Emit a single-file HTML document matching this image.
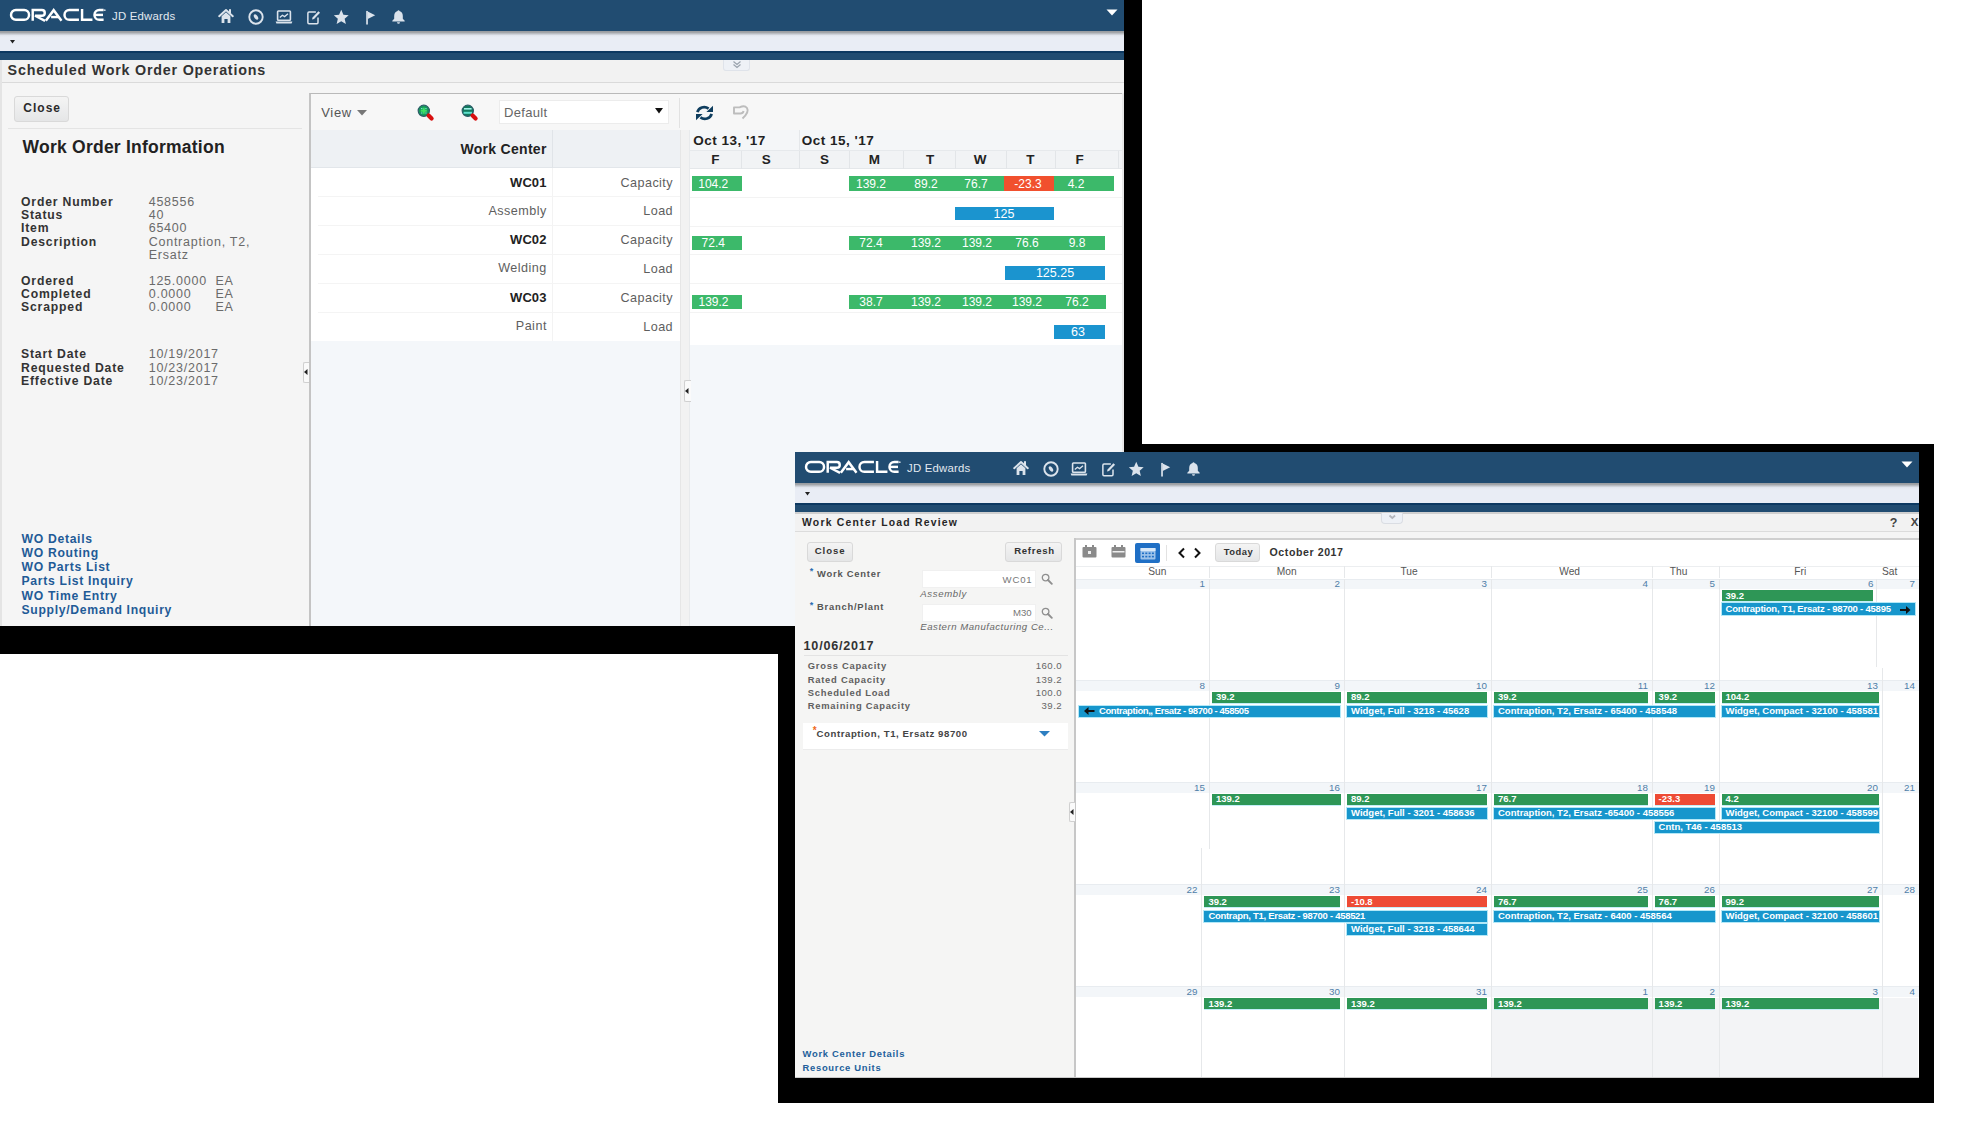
<!DOCTYPE html><html><head><meta charset="utf-8"><style>
*{box-sizing:border-box;margin:0;padding:0}
html,body{width:1984px;height:1134px;overflow:hidden;background:#fff;font-family:"Liberation Sans",sans-serif;}
.a{position:absolute}
.scr{position:absolute;overflow:hidden;width:1124px;height:626px;}
.t{position:absolute;white-space:nowrap}
</style></head><body>
<div class="a" style="left:0px;top:0px;width:1142px;height:654px;background:#000;"></div><div class="a" style="left:778px;top:444px;width:1156px;height:659px;background:#000;"></div><div class="scr" style="left:0;top:0"><div class="a" style="left:0px;top:0px;width:1124px;height:626px;background:#f5f5f5;"></div><div class="a" style="left:0px;top:0px;width:1124px;height:31px;background:#214c71;"></div><svg class="a" style="left:10px;top:9.2px;color:#fff;overflow:visible" width="94" height="11.8" viewBox="0 0 96 12" preserveAspectRatio="none"><g fill="none" stroke="currentColor" stroke-width="2.5">
<rect x="1.05" y="1.05" width="18.4" height="9.9" rx="4.95"/>
<path d="M23.2 12 V1.05 H32.6 A2.9 2.9 0 0 1 32.6 6.85 H25.6 L35.8 12"/>
<path d="M36.6 12 L44.6 1.2 L52.6 12"/>
<path d="M42 8.2 H49.6"/>
<path d="M70.4 10.95 H60.6 A4.95 4.95 0 0 1 60.6 1.05 H70.4"/>
<path d="M73.6 0 V10.95 H84.2"/>
<path d="M95.6 10.95 H91.2 A4.95 4.95 0 0 1 91.2 1.05 H95.6"/>
<path d="M86.8 6 H95"/>
</g><circle cx="96.8" cy="1.2" r="0.9" fill="currentColor" fill-opacity="0.8"/></svg><div class="a" style="left:112px;top:9.4px;height:15px;white-space:nowrap;font-size:11.4px;line-height:15px;font-weight:normal;font-style:normal;color:#e3e9f0;letter-spacing:0.205px;">JD Edwards</div><svg class="a" style="left:218.0px;top:8.0px;color:#dbe3ec" width="16" height="16" viewBox="0 0 16 16"><path d="M1.2 8.2 L8 2 L14.8 8.2" fill="none" stroke="currentColor" stroke-width="2" stroke-linecap="round" stroke-linejoin="round"/><path d="M3.6 8.3 L8 4.3 L12.4 8.3 V15 H9.6 V11 H6.4 V15 H3.6 Z" fill="currentColor"/><rect x="11" y="1.2" width="2" height="4" fill="currentColor"/></svg><svg class="a" style="left:247.5px;top:9.0px;color:#dbe3ec" width="16" height="16" viewBox="0 0 16 16"><circle cx="8" cy="8" r="6.7" fill="none" stroke="currentColor" stroke-width="1.9"/><ellipse cx="8" cy="8" rx="3" ry="1.7" transform="rotate(55 8 8)" fill="currentColor"/></svg><svg class="a" style="left:275.0px;top:9.0px;color:#dbe3ec" width="18" height="16" viewBox="0 0 18 16"><rect x="2.6" y="2" width="12.8" height="9.2" rx="0.8" fill="none" stroke="currentColor" stroke-width="1.6"/><path d="M4.8 8.6 L7.4 6.2 L9.6 7.6 L13 4.8" fill="none" stroke="currentColor" stroke-width="1.3"/><path d="M0.6 12.6 H17.4 L16.6 14.4 H1.4 Z" fill="currentColor"/></svg><svg class="a" style="left:305.5px;top:9.5px;color:#dbe3ec" width="15" height="15" viewBox="0 0 16 16"><path d="M10.5 2.2 H3.2 Q2 2.2 2 3.4 V13.4 Q2 14.6 3.2 14.6 H11.6 Q12.8 14.6 12.8 13.4 V8" fill="none" stroke="currentColor" stroke-width="1.6"/><path d="M13.2 1.2 L15 3 L8.6 9.6 L6.4 10.2 L7 8 Z" fill="currentColor"/></svg><svg class="a" style="left:332.75px;top:8.75px;color:#dbe3ec" width="16.5" height="16.5" viewBox="0 0 16 16"><path d="M8 0.8 L10.1 5.6 L15.2 6 L11.3 9.4 L12.5 14.6 L8 11.9 L3.5 14.6 L4.7 9.4 L0.8 6 L5.9 5.6 Z" fill="currentColor"/></svg><svg class="a" style="left:362.5px;top:9.5px;color:#dbe3ec" width="15" height="15" viewBox="0 0 16 16"><rect x="3.4" y="1" width="1.8" height="14.5" fill="currentColor"/><path d="M5 1.5 L13 5.6 L5 9.6 Z" fill="currentColor"/></svg><svg class="a" style="left:390.5px;top:8.8px;color:#dbe3ec" width="15" height="15" viewBox="0 0 16 16"><path d="M8 1.2 Q9 1.2 9 2.2 Q12.6 3.2 12.6 7.5 V10.4 L14.6 12.6 V13.4 H1.4 V12.6 L3.4 10.4 V7.5 Q3.4 3.2 7 2.2 Q7 1.2 8 1.2 Z" fill="currentColor"/><path d="M6.4 14 H9.6 Q9.4 15.6 8 15.6 Q6.6 15.6 6.4 14 Z" fill="currentColor"/></svg><svg class="a" style="left:1106px;top:9px" width="12" height="7"><path d="M0.5 0.5 L11.5 0.5 L6 6.5 Z" fill="#fff"/></svg><div class="a" style="left:0px;top:31px;width:1124px;height:20px;background:linear-gradient(#979a9e 0px,#a3a6aa 1.5px,#c4c8cf 3px,#e2e6ee 4.5px,#e9edf5 6px,#e9edf5 100%);"></div><div class="a" style="left:10px;top:39.5px;width:5px;height:4px;"><svg width="5" height="4" style="display:block"><path d="M0 0 H5 L2.5 3.5 Z" fill="#222"/></svg></div><div class="a" style="left:0px;top:51px;width:1124px;height:2px;background:#0d3961;"></div><div class="a" style="left:0px;top:53px;width:1124px;height:7px;background:#214c71;"></div><div class="a" style="left:0px;top:60px;width:1124px;height:23px;background:#f2f2f2;border-bottom:1px solid #dadada;"></div><div class="a" style="left:7.6px;top:61.2px;height:19px;white-space:nowrap;font-size:14.3px;line-height:19px;font-weight:bold;font-style:normal;color:#333;letter-spacing:0.782px;">Scheduled Work Order Operations</div><div class="a" style="left:723px;top:60px;width:27px;height:11px;background:#eef1f6;border:1px solid #dfe3ea;border-top:none;border-radius:0 0 3px 3px;"><svg width="27" height="10" style="position:absolute;left:0;top:0"><path d="M9.5 1.5 L13 4.5 L16.5 1.5 M9.5 4.5 L13 7.5 L16.5 4.5" fill="none" stroke="#9aa3ad" stroke-width="1.2"/></svg></div><div class="a" style="left:0px;top:83px;width:310px;height:543px;background:#f5f5f5;"></div><div class="a" style="left:0px;top:60px;width:2px;height:566px;background:#e4e4e4;"></div><div class="a" style="left:13.8px;top:96px;width:55.7px;height:26px;background:linear-gradient(#f4f4f4,#e5e6e7);border:1px solid #d9d9d9;border-radius:3px;"></div><div class="a" style="left:23.3px;top:99.8px;height:16px;white-space:nowrap;font-size:12px;line-height:16px;font-weight:bold;font-style:normal;color:#2b2b2b;letter-spacing:1.005px;">Close</div><div class="a" style="left:8px;top:127.5px;width:294px;height:1px;background:#e4e4e4;"></div><div class="a" style="left:22.6px;top:135.5px;height:23px;white-space:nowrap;font-size:17.5px;line-height:23px;font-weight:bold;font-style:normal;color:#222;letter-spacing:0.235px;">Work Order Information</div><div class="a" style="left:21px;top:193.5px;height:16px;white-space:nowrap;font-size:12.2px;line-height:16px;font-weight:bold;font-style:normal;color:#333;letter-spacing:0.827px;">Order Number</div><div class="a" style="left:148.7px;top:193.5px;height:16px;white-space:nowrap;font-size:12.5px;line-height:16px;font-weight:normal;font-style:normal;color:#6a6a6a;letter-spacing:0.757px;">458556</div><div class="a" style="left:21px;top:207.0px;height:16px;white-space:nowrap;font-size:12.2px;line-height:16px;font-weight:bold;font-style:normal;color:#333;letter-spacing:0.827px;">Status</div><div class="a" style="left:148.7px;top:207.0px;height:16px;white-space:nowrap;font-size:12.5px;line-height:16px;font-weight:normal;font-style:normal;color:#6a6a6a;letter-spacing:0.757px;">40</div><div class="a" style="left:21px;top:220.3px;height:16px;white-space:nowrap;font-size:12.2px;line-height:16px;font-weight:bold;font-style:normal;color:#333;letter-spacing:0.827px;">Item</div><div class="a" style="left:148.7px;top:220.3px;height:16px;white-space:nowrap;font-size:12.5px;line-height:16px;font-weight:normal;font-style:normal;color:#6a6a6a;letter-spacing:0.757px;">65400</div><div class="a" style="left:21px;top:233.8px;height:16px;white-space:nowrap;font-size:12.2px;line-height:16px;font-weight:bold;font-style:normal;color:#333;letter-spacing:0.827px;">Description</div><div class="a" style="left:148.7px;top:233.8px;height:16px;white-space:nowrap;font-size:12.5px;line-height:16px;font-weight:normal;font-style:normal;color:#6a6a6a;letter-spacing:0.757px;">Contraption, T2,</div><div class="a" style="left:148.7px;top:247.0px;height:16px;white-space:nowrap;font-size:12.5px;line-height:16px;font-weight:normal;font-style:normal;color:#6a6a6a;letter-spacing:0.757px;">Ersatz</div><div class="a" style="left:21px;top:272.5px;height:16px;white-space:nowrap;font-size:12.2px;line-height:16px;font-weight:bold;font-style:normal;color:#333;letter-spacing:0.827px;">Ordered</div><div class="a" style="left:148.7px;top:272.5px;height:16px;white-space:nowrap;font-size:12.5px;line-height:16px;font-weight:normal;font-style:normal;color:#6a6a6a;letter-spacing:0.757px;">125.0000</div><div class="a" style="left:21px;top:286.0px;height:16px;white-space:nowrap;font-size:12.2px;line-height:16px;font-weight:bold;font-style:normal;color:#333;letter-spacing:0.827px;">Completed</div><div class="a" style="left:148.7px;top:286.0px;height:16px;white-space:nowrap;font-size:12.5px;line-height:16px;font-weight:normal;font-style:normal;color:#6a6a6a;letter-spacing:0.757px;">0.0000</div><div class="a" style="left:21px;top:299.0px;height:16px;white-space:nowrap;font-size:12.2px;line-height:16px;font-weight:bold;font-style:normal;color:#333;letter-spacing:0.827px;">Scrapped</div><div class="a" style="left:148.7px;top:299.0px;height:16px;white-space:nowrap;font-size:12.5px;line-height:16px;font-weight:normal;font-style:normal;color:#6a6a6a;letter-spacing:0.757px;">0.0000</div><div class="a" style="left:21px;top:346.0px;height:16px;white-space:nowrap;font-size:12.2px;line-height:16px;font-weight:bold;font-style:normal;color:#333;letter-spacing:0.827px;">Start Date</div><div class="a" style="left:148.7px;top:346.0px;height:16px;white-space:nowrap;font-size:12.5px;line-height:16px;font-weight:normal;font-style:normal;color:#6a6a6a;letter-spacing:0.757px;">10/19/2017</div><div class="a" style="left:21px;top:359.5px;height:16px;white-space:nowrap;font-size:12.2px;line-height:16px;font-weight:bold;font-style:normal;color:#333;letter-spacing:0.827px;">Requested Date</div><div class="a" style="left:148.7px;top:359.5px;height:16px;white-space:nowrap;font-size:12.5px;line-height:16px;font-weight:normal;font-style:normal;color:#6a6a6a;letter-spacing:0.757px;">10/23/2017</div><div class="a" style="left:21px;top:372.6px;height:16px;white-space:nowrap;font-size:12.2px;line-height:16px;font-weight:bold;font-style:normal;color:#333;letter-spacing:0.827px;">Effective Date</div><div class="a" style="left:148.7px;top:372.6px;height:16px;white-space:nowrap;font-size:12.5px;line-height:16px;font-weight:normal;font-style:normal;color:#6a6a6a;letter-spacing:0.757px;">10/23/2017</div><div class="a" style="left:215.5px;top:272.5px;height:16px;white-space:nowrap;font-size:12.5px;line-height:16px;font-weight:normal;font-style:normal;color:#6a6a6a;letter-spacing:0.757px;">EA</div><div class="a" style="left:215.5px;top:286.0px;height:16px;white-space:nowrap;font-size:12.5px;line-height:16px;font-weight:normal;font-style:normal;color:#6a6a6a;letter-spacing:0.757px;">EA</div><div class="a" style="left:215.5px;top:299.0px;height:16px;white-space:nowrap;font-size:12.5px;line-height:16px;font-weight:normal;font-style:normal;color:#6a6a6a;letter-spacing:0.757px;">EA</div><div class="a" style="left:21.5px;top:530.7px;height:16px;white-space:nowrap;font-size:12.2px;line-height:16px;font-weight:bold;font-style:normal;color:#1f5b97;letter-spacing:0.687px;">WO Details</div><div class="a" style="left:21.5px;top:544.9px;height:16px;white-space:nowrap;font-size:12.2px;line-height:16px;font-weight:bold;font-style:normal;color:#1f5b97;letter-spacing:0.687px;">WO Routing</div><div class="a" style="left:21.5px;top:559.1px;height:16px;white-space:nowrap;font-size:12.2px;line-height:16px;font-weight:bold;font-style:normal;color:#1f5b97;letter-spacing:0.687px;">WO Parts List</div><div class="a" style="left:21.5px;top:573.3px;height:16px;white-space:nowrap;font-size:12.2px;line-height:16px;font-weight:bold;font-style:normal;color:#1f5b97;letter-spacing:0.687px;">Parts List Inquiry</div><div class="a" style="left:21.5px;top:587.5px;height:16px;white-space:nowrap;font-size:12.2px;line-height:16px;font-weight:bold;font-style:normal;color:#1f5b97;letter-spacing:0.687px;">WO Time Entry</div><div class="a" style="left:21.5px;top:601.7px;height:16px;white-space:nowrap;font-size:12.2px;line-height:16px;font-weight:bold;font-style:normal;color:#1f5b97;letter-spacing:0.687px;">Supply/Demand Inquiry</div><div class="a" style="left:303px;top:362px;width:7px;height:21px;background:#fafafa;border:1px solid #d0d0d0;border-right:none;border-radius:2px 0 0 2px;"></div><svg class="a" style="left:304px;top:369px" width="4" height="6"><path d="M3.5 0 V6 L0 3 Z" fill="#222"/></svg><div class="a" style="left:309px;top:93px;width:815px;height:533px;background:#f4f7fa;border-top:1px solid #b9b9b9;border-left:2px solid #c4c4c4;"></div><div class="a" style="left:311px;top:94px;width:813px;height:36px;background:#f7f7f7;"></div><div class="a" style="left:321.2px;top:103.5px;height:17px;white-space:nowrap;font-size:13px;line-height:17px;font-weight:normal;font-style:normal;color:#555;letter-spacing:0.685px;">View</div><svg class="a" style="left:357px;top:110px" width="10" height="6"><path d="M0 0 H10 L5 5.5 Z" fill="#777"/></svg><svg class="a" style="left:416.5px;top:103.5px" width="19" height="18"><circle cx="6.8" cy="6.8" r="5.6" fill="#16985c" stroke="#2d5d68" stroke-width="1.2"/><path d="M3.8 6.8 H9.8 M6.8 3.8 V9.8" stroke="#3fe064" stroke-width="2"/><path d="M4 4.6 L5.4 4.6 M8.3 4.6 L9.6 4.6 M4 9 L5.4 9 M8.3 9 L9.6 9" stroke="#7fe8d8" stroke-width="1"/><path d="M11.6 11.4 L14.6 14.4" stroke="#d81010" stroke-width="4.2" stroke-linecap="round"/></svg><svg class="a" style="left:460.5px;top:103.5px" width="19" height="18"><circle cx="6.8" cy="6.8" r="5.6" fill="#117a5e" stroke="#2d5d68" stroke-width="1.2"/><path d="M3 4.8 H10.6" stroke="#9ff0e6" stroke-width="1.6"/><path d="M2.6 8.8 H11" stroke="#5ee0cc" stroke-width="2"/><path d="M11.6 11.4 L14.6 14.4" stroke="#d81010" stroke-width="4.2" stroke-linecap="round"/></svg><div class="a" style="left:499px;top:100px;width:170px;height:24px;background:#fff;border:1px solid #ececec;"></div><div class="a" style="left:504px;top:103.5px;height:17px;white-space:nowrap;font-size:13px;line-height:17px;font-weight:normal;font-style:normal;color:#666;letter-spacing:0.302px;">Default</div><svg class="a" style="left:655px;top:108px" width="8" height="6"><path d="M0 0 H8 L4 5.5 Z" fill="#111"/></svg><div class="a" style="left:679px;top:98px;width:1px;height:30px;background:#e2e2e2;"></div><svg class="a" style="left:695px;top:104px" width="19" height="18" viewBox="0 0 19 18"><g fill="none" stroke="#0f3d5e" stroke-width="2.7"><path d="M2.4 8.2 C3.6 3.4 9.5 1.6 13.6 4.6"/><path d="M16.6 9.8 C15.4 14.6 9.5 16.4 5.4 13.4"/></g><g fill="#0f3d5e"><path d="M11.4 8 L18 8 L18 1.8 Z"/><path d="M7.6 10 L1 10 L1 16.2 Z"/></g></svg><svg class="a" style="left:731px;top:103px" width="20" height="18" viewBox="0 0 20 18"><g fill="none" stroke="#bdbdbd" stroke-width="1.9" stroke-linejoin="round"><path d="M11.5 15.5 Q18.5 9 16 5 Q13.5 1.8 9 4.2 L3 4.4 L3 10.5 L9.5 10.5 Q12 10.5 12.6 8"/></g></svg><div class="a" style="left:311px;top:130px;width:369px;height:38px;background:#eef1f4;border-bottom:1px solid #e2e6ea;"></div><div class="a" style="left:552px;top:130px;width:1px;height:38px;background:#e0e4e8;"></div><div class="a" style="left:460.4px;top:140.0px;height:18px;white-space:nowrap;font-size:14px;line-height:18px;font-weight:bold;font-style:normal;color:#222;letter-spacing:0.302px;">Work Center</div><div class="a" style="left:311px;top:168px;width:369px;height:173px;background:#fff;"></div><div class="a" style="left:552px;top:168px;width:1px;height:173px;background:#f3f3f3;"></div><div class="a" style="left:510.1px;top:173.5px;height:17px;white-space:nowrap;font-size:13px;line-height:17px;font-weight:bold;font-style:normal;color:#222;letter-spacing:0.060px;">WC01</div><div class="a" style="left:620.6px;top:174.5px;height:16px;white-space:nowrap;font-size:12.6px;line-height:16px;font-weight:normal;font-style:normal;color:#5e5e5e;letter-spacing:0.425px;">Capacity</div><div class="a" style="left:318px;top:196.4px;width:362px;height:1px;background:#f4f4f4;"></div><div class="a" style="left:488.4px;top:202.8px;height:16px;white-space:nowrap;font-size:12.6px;line-height:16px;font-weight:normal;font-style:normal;color:#5e5e5e;letter-spacing:0.483px;">Assembly</div><div class="a" style="left:643.29px;top:203.3px;height:16px;white-space:nowrap;font-size:12.6px;line-height:16px;font-weight:normal;font-style:normal;color:#5e5e5e;letter-spacing:0.425px;">Load</div><div class="a" style="left:318px;top:225.2px;width:362px;height:1px;background:#f4f4f4;"></div><div class="a" style="left:510.1px;top:231.1px;height:17px;white-space:nowrap;font-size:13px;line-height:17px;font-weight:bold;font-style:normal;color:#222;letter-spacing:0.060px;">WC02</div><div class="a" style="left:620.6px;top:232.1px;height:16px;white-space:nowrap;font-size:12.6px;line-height:16px;font-weight:normal;font-style:normal;color:#5e5e5e;letter-spacing:0.425px;">Capacity</div><div class="a" style="left:318px;top:254.0px;width:362px;height:1px;background:#f4f4f4;"></div><div class="a" style="left:498.2px;top:260.4px;height:16px;white-space:nowrap;font-size:12.6px;line-height:16px;font-weight:normal;font-style:normal;color:#5e5e5e;letter-spacing:0.483px;">Welding</div><div class="a" style="left:643.29px;top:260.9px;height:16px;white-space:nowrap;font-size:12.6px;line-height:16px;font-weight:normal;font-style:normal;color:#5e5e5e;letter-spacing:0.425px;">Load</div><div class="a" style="left:318px;top:282.8px;width:362px;height:1px;background:#f4f4f4;"></div><div class="a" style="left:510.1px;top:288.7px;height:17px;white-space:nowrap;font-size:13px;line-height:17px;font-weight:bold;font-style:normal;color:#222;letter-spacing:0.060px;">WC03</div><div class="a" style="left:620.6px;top:289.7px;height:16px;white-space:nowrap;font-size:12.6px;line-height:16px;font-weight:normal;font-style:normal;color:#5e5e5e;letter-spacing:0.425px;">Capacity</div><div class="a" style="left:318px;top:311.6px;width:362px;height:1px;background:#f4f4f4;"></div><div class="a" style="left:515.75px;top:318.0px;height:16px;white-space:nowrap;font-size:12.6px;line-height:16px;font-weight:normal;font-style:normal;color:#5e5e5e;letter-spacing:0.483px;">Paint</div><div class="a" style="left:643.29px;top:318.5px;height:16px;white-space:nowrap;font-size:12.6px;line-height:16px;font-weight:normal;font-style:normal;color:#5e5e5e;letter-spacing:0.425px;">Load</div><div class="a" style="left:680px;top:130px;width:10px;height:496px;background:#f2f2f2;border-left:1px solid #e6e6e6;border-right:1px solid #e8eaec;"></div><div class="a" style="left:684px;top:380px;width:7px;height:22px;background:#fafafa;border:1px solid #d0d0d0;border-right:none;border-radius:2px 0 0 2px;"></div><svg class="a" style="left:685px;top:388px" width="4" height="6"><path d="M3.5 0 V6 L0 3 Z" fill="#222"/></svg><div class="a" style="left:690px;top:130px;width:434px;height:39px;background:#f4f6f8;"></div><div class="a" style="left:690px;top:150px;width:434px;height:19px;background:#f1f3f5;border-top:1px solid #e6e9ec;border-bottom:1px solid #e4e7ea;"></div><div class="a" style="left:693.2px;top:131.5px;height:18px;white-space:nowrap;font-size:13.5px;line-height:18px;font-weight:bold;font-style:normal;color:#222;letter-spacing:0.500px;">Oct 13, '17</div><div class="a" style="left:799px;top:130px;width:1px;height:20px;background:#e4e7ea;"></div><div class="a" style="left:801.7px;top:131.5px;height:18px;white-space:nowrap;font-size:13.5px;line-height:18px;font-weight:bold;font-style:normal;color:#222;letter-spacing:0.500px;">Oct 15, '17</div><div class="a" style="left:711.28px;top:150.5px;height:18px;white-space:nowrap;font-size:13.5px;line-height:18px;font-weight:bold;font-style:normal;color:#222;letter-spacing:0.000px;">F</div><div class="a" style="left:741px;top:151px;width:1px;height:18px;background:#e2e5e8;"></div><div class="a" style="left:761.7px;top:150.5px;height:18px;white-space:nowrap;font-size:13.5px;line-height:18px;font-weight:bold;font-style:normal;color:#222;letter-spacing:0.000px;">S</div><div class="a" style="left:799px;top:151px;width:1px;height:18px;background:#e2e5e8;"></div><div class="a" style="left:819.9px;top:150.5px;height:18px;white-space:nowrap;font-size:13.5px;line-height:18px;font-weight:bold;font-style:normal;color:#222;letter-spacing:0.000px;">S</div><div class="a" style="left:848.5px;top:151px;width:1px;height:18px;background:#e2e5e8;"></div><div class="a" style="left:868.68px;top:150.5px;height:18px;white-space:nowrap;font-size:13.5px;line-height:18px;font-weight:bold;font-style:normal;color:#222;letter-spacing:0.000px;">M</div><div class="a" style="left:903px;top:151px;width:1px;height:18px;background:#e2e5e8;"></div><div class="a" style="left:926.08px;top:150.5px;height:18px;white-space:nowrap;font-size:13.5px;line-height:18px;font-weight:bold;font-style:normal;color:#222;letter-spacing:0.000px;">T</div><div class="a" style="left:955px;top:151px;width:1px;height:18px;background:#e2e5e8;"></div><div class="a" style="left:973.63px;top:150.5px;height:18px;white-space:nowrap;font-size:13.5px;line-height:18px;font-weight:bold;font-style:normal;color:#222;letter-spacing:0.000px;">W</div><div class="a" style="left:1006px;top:151px;width:1px;height:18px;background:#e2e5e8;"></div><div class="a" style="left:1026.18px;top:150.5px;height:18px;white-space:nowrap;font-size:13.5px;line-height:18px;font-weight:bold;font-style:normal;color:#222;letter-spacing:0.000px;">T</div><div class="a" style="left:1055px;top:151px;width:1px;height:18px;background:#e2e5e8;"></div><div class="a" style="left:1075.38px;top:150.5px;height:18px;white-space:nowrap;font-size:13.5px;line-height:18px;font-weight:bold;font-style:normal;color:#222;letter-spacing:0.000px;">F</div><div class="a" style="left:1117.5px;top:151px;width:1px;height:18px;background:#e2e5e8;"></div><div class="a" style="left:690px;top:169px;width:432px;height:176px;background:#fff;"></div><div class="a" style="left:690px;top:196.8px;width:432px;height:1px;background:#f3f3f3;"></div><div class="a" style="left:690px;top:225.6px;width:432px;height:1px;background:#f3f3f3;"></div><div class="a" style="left:690px;top:254.4px;width:432px;height:1px;background:#f3f3f3;"></div><div class="a" style="left:690px;top:283.2px;width:432px;height:1px;background:#f3f3f3;"></div><div class="a" style="left:690px;top:312.0px;width:432px;height:1px;background:#f3f3f3;"></div><div class="a" style="left:691.5px;top:176px;width:50.0px;height:15px;background:#3cb96a;"></div><div class="a" style="left:698.28px;top:175.5px;height:16px;white-space:nowrap;font-size:12px;line-height:16px;font-weight:normal;font-style:normal;color:#fff;letter-spacing:0.000px;">104.2</div><div class="a" style="left:848.5px;top:176px;width:265.5px;height:15px;background:#3cb96a;"></div><div class="a" style="left:1004px;top:176px;width:49.7px;height:15px;background:#f1502e;"></div><div class="a" style="left:855.99px;top:175.5px;height:16px;white-space:nowrap;font-size:12px;line-height:16px;font-weight:normal;font-style:normal;color:#fff;letter-spacing:0.000px;">139.2</div><div class="a" style="left:914.32px;top:175.5px;height:16px;white-space:nowrap;font-size:12px;line-height:16px;font-weight:normal;font-style:normal;color:#fff;letter-spacing:0.000px;">89.2</div><div class="a" style="left:964.32px;top:175.5px;height:16px;white-space:nowrap;font-size:12px;line-height:16px;font-weight:normal;font-style:normal;color:#fff;letter-spacing:0.000px;">76.7</div><div class="a" style="left:1014.32px;top:175.5px;height:16px;white-space:nowrap;font-size:12px;line-height:16px;font-weight:normal;font-style:normal;color:#fff;letter-spacing:0.000px;">-23.3</div><div class="a" style="left:1067.66px;top:175.5px;height:16px;white-space:nowrap;font-size:12px;line-height:16px;font-weight:normal;font-style:normal;color:#fff;letter-spacing:0.000px;">4.2</div><div class="a" style="left:954.7px;top:206.6px;width:99.0px;height:13.9px;background:#1b94cf;"></div><div class="a" style="left:993.57px;top:205.6px;height:16px;white-space:nowrap;font-size:12.5px;line-height:16px;font-weight:normal;font-style:normal;color:#fff;letter-spacing:0.000px;">125</div><div class="a" style="left:691.5px;top:235.6px;width:50.0px;height:14.4px;background:#3cb96a;"></div><div class="a" style="left:701.62px;top:234.8px;height:16px;white-space:nowrap;font-size:12px;line-height:16px;font-weight:normal;font-style:normal;color:#fff;letter-spacing:0.000px;">72.4</div><div class="a" style="left:848.5px;top:235.6px;width:256.9px;height:14.4px;background:#3cb96a;"></div><div class="a" style="left:859.32px;top:234.8px;height:16px;white-space:nowrap;font-size:12px;line-height:16px;font-weight:normal;font-style:normal;color:#fff;letter-spacing:0.000px;">72.4</div><div class="a" style="left:910.99px;top:234.8px;height:16px;white-space:nowrap;font-size:12px;line-height:16px;font-weight:normal;font-style:normal;color:#fff;letter-spacing:0.000px;">139.2</div><div class="a" style="left:961.99px;top:234.8px;height:16px;white-space:nowrap;font-size:12px;line-height:16px;font-weight:normal;font-style:normal;color:#fff;letter-spacing:0.000px;">139.2</div><div class="a" style="left:1015.32px;top:234.8px;height:16px;white-space:nowrap;font-size:12px;line-height:16px;font-weight:normal;font-style:normal;color:#fff;letter-spacing:0.000px;">76.6</div><div class="a" style="left:1068.66px;top:234.8px;height:16px;white-space:nowrap;font-size:12px;line-height:16px;font-weight:normal;font-style:normal;color:#fff;letter-spacing:0.000px;">9.8</div><div class="a" style="left:1005px;top:265.8px;width:99.7px;height:13.9px;background:#1b94cf;"></div><div class="a" style="left:1035.88px;top:264.8px;height:16px;white-space:nowrap;font-size:12.5px;line-height:16px;font-weight:normal;font-style:normal;color:#fff;letter-spacing:0.000px;">125.25</div><div class="a" style="left:691.5px;top:294.5px;width:50.0px;height:14.5px;background:#3cb96a;"></div><div class="a" style="left:698.49px;top:293.7px;height:16px;white-space:nowrap;font-size:12px;line-height:16px;font-weight:normal;font-style:normal;color:#fff;letter-spacing:0.000px;">139.2</div><div class="a" style="left:848.5px;top:294.5px;width:257.0px;height:14.5px;background:#3cb96a;"></div><div class="a" style="left:859.32px;top:293.7px;height:16px;white-space:nowrap;font-size:12px;line-height:16px;font-weight:normal;font-style:normal;color:#fff;letter-spacing:0.000px;">38.7</div><div class="a" style="left:910.99px;top:293.7px;height:16px;white-space:nowrap;font-size:12px;line-height:16px;font-weight:normal;font-style:normal;color:#fff;letter-spacing:0.000px;">139.2</div><div class="a" style="left:961.99px;top:293.7px;height:16px;white-space:nowrap;font-size:12px;line-height:16px;font-weight:normal;font-style:normal;color:#fff;letter-spacing:0.000px;">139.2</div><div class="a" style="left:1011.99px;top:293.7px;height:16px;white-space:nowrap;font-size:12px;line-height:16px;font-weight:normal;font-style:normal;color:#fff;letter-spacing:0.000px;">139.2</div><div class="a" style="left:1065.32px;top:293.7px;height:16px;white-space:nowrap;font-size:12px;line-height:16px;font-weight:normal;font-style:normal;color:#fff;letter-spacing:0.000px;">76.2</div><div class="a" style="left:1054.4px;top:324.7px;width:50.3px;height:14.1px;background:#1b94cf;"></div><div class="a" style="left:1071.05px;top:323.8px;height:16px;white-space:nowrap;font-size:12.5px;line-height:16px;font-weight:normal;font-style:normal;color:#fff;letter-spacing:0.000px;">63</div><div class="a" style="left:1122px;top:93px;width:2px;height:533px;background:#e8e8e8;"></div></div><div class="scr" style="left:795px;top:452px"><div class="a" style="left:0px;top:0px;width:1124px;height:626px;background:#f5f5f5;"></div><div class="a" style="left:0px;top:0px;width:1124px;height:31px;background:#214c71;"></div><svg class="a" style="left:10px;top:9.2px;color:#fff;overflow:visible" width="94" height="11.8" viewBox="0 0 96 12" preserveAspectRatio="none"><g fill="none" stroke="currentColor" stroke-width="2.5">
<rect x="1.05" y="1.05" width="18.4" height="9.9" rx="4.95"/>
<path d="M23.2 12 V1.05 H32.6 A2.9 2.9 0 0 1 32.6 6.85 H25.6 L35.8 12"/>
<path d="M36.6 12 L44.6 1.2 L52.6 12"/>
<path d="M42 8.2 H49.6"/>
<path d="M70.4 10.95 H60.6 A4.95 4.95 0 0 1 60.6 1.05 H70.4"/>
<path d="M73.6 0 V10.95 H84.2"/>
<path d="M95.6 10.95 H91.2 A4.95 4.95 0 0 1 91.2 1.05 H95.6"/>
<path d="M86.8 6 H95"/>
</g><circle cx="96.8" cy="1.2" r="0.9" fill="currentColor" fill-opacity="0.8"/></svg><div class="a" style="left:112px;top:9.4px;height:15px;white-space:nowrap;font-size:11.4px;line-height:15px;font-weight:normal;font-style:normal;color:#e3e9f0;letter-spacing:0.205px;">JD Edwards</div><svg class="a" style="left:218.0px;top:8.0px;color:#dbe3ec" width="16" height="16" viewBox="0 0 16 16"><path d="M1.2 8.2 L8 2 L14.8 8.2" fill="none" stroke="currentColor" stroke-width="2" stroke-linecap="round" stroke-linejoin="round"/><path d="M3.6 8.3 L8 4.3 L12.4 8.3 V15 H9.6 V11 H6.4 V15 H3.6 Z" fill="currentColor"/><rect x="11" y="1.2" width="2" height="4" fill="currentColor"/></svg><svg class="a" style="left:247.5px;top:9.0px;color:#dbe3ec" width="16" height="16" viewBox="0 0 16 16"><circle cx="8" cy="8" r="6.7" fill="none" stroke="currentColor" stroke-width="1.9"/><ellipse cx="8" cy="8" rx="3" ry="1.7" transform="rotate(55 8 8)" fill="currentColor"/></svg><svg class="a" style="left:275.0px;top:9.0px;color:#dbe3ec" width="18" height="16" viewBox="0 0 18 16"><rect x="2.6" y="2" width="12.8" height="9.2" rx="0.8" fill="none" stroke="currentColor" stroke-width="1.6"/><path d="M4.8 8.6 L7.4 6.2 L9.6 7.6 L13 4.8" fill="none" stroke="currentColor" stroke-width="1.3"/><path d="M0.6 12.6 H17.4 L16.6 14.4 H1.4 Z" fill="currentColor"/></svg><svg class="a" style="left:305.5px;top:9.5px;color:#dbe3ec" width="15" height="15" viewBox="0 0 16 16"><path d="M10.5 2.2 H3.2 Q2 2.2 2 3.4 V13.4 Q2 14.6 3.2 14.6 H11.6 Q12.8 14.6 12.8 13.4 V8" fill="none" stroke="currentColor" stroke-width="1.6"/><path d="M13.2 1.2 L15 3 L8.6 9.6 L6.4 10.2 L7 8 Z" fill="currentColor"/></svg><svg class="a" style="left:332.75px;top:8.75px;color:#dbe3ec" width="16.5" height="16.5" viewBox="0 0 16 16"><path d="M8 0.8 L10.1 5.6 L15.2 6 L11.3 9.4 L12.5 14.6 L8 11.9 L3.5 14.6 L4.7 9.4 L0.8 6 L5.9 5.6 Z" fill="currentColor"/></svg><svg class="a" style="left:362.5px;top:9.5px;color:#dbe3ec" width="15" height="15" viewBox="0 0 16 16"><rect x="3.4" y="1" width="1.8" height="14.5" fill="currentColor"/><path d="M5 1.5 L13 5.6 L5 9.6 Z" fill="currentColor"/></svg><svg class="a" style="left:390.5px;top:8.8px;color:#dbe3ec" width="15" height="15" viewBox="0 0 16 16"><path d="M8 1.2 Q9 1.2 9 2.2 Q12.6 3.2 12.6 7.5 V10.4 L14.6 12.6 V13.4 H1.4 V12.6 L3.4 10.4 V7.5 Q3.4 3.2 7 2.2 Q7 1.2 8 1.2 Z" fill="currentColor"/><path d="M6.4 14 H9.6 Q9.4 15.6 8 15.6 Q6.6 15.6 6.4 14 Z" fill="currentColor"/></svg><svg class="a" style="left:1106px;top:9px" width="12" height="7"><path d="M0.5 0.5 L11.5 0.5 L6 6.5 Z" fill="#fff"/></svg><div class="a" style="left:0px;top:31px;width:1124px;height:20px;background:linear-gradient(#979a9e 0px,#a3a6aa 1.5px,#c4c8cf 3px,#e2e6ee 4.5px,#e9edf5 6px,#e9edf5 100%);"></div><div class="a" style="left:10px;top:39.5px;width:5px;height:4px;"><svg width="5" height="4" style="display:block"><path d="M0 0 H5 L2.5 3.5 Z" fill="#222"/></svg></div><div class="a" style="left:0px;top:51px;width:1124px;height:2px;background:#0d3961;"></div><div class="a" style="left:0px;top:53px;width:1124px;height:7px;background:#214c71;"></div><div class="a" style="left:0px;top:60px;width:1124px;height:20px;background:#f2f2f2;border-bottom:1px solid #dcdcdc;"></div><div class="a" style="left:7px;top:63.9px;height:14px;white-space:nowrap;font-size:10.4px;line-height:14px;font-weight:bold;font-style:normal;color:#262626;letter-spacing:1.222px;">Work Center Load Review</div><div class="a" style="left:1094.68px;top:62.7px;height:16px;white-space:nowrap;font-size:12.5px;line-height:16px;font-weight:bold;font-style:normal;color:#444;letter-spacing:0.000px;">?</div><div class="a" style="left:1115.66px;top:63.2px;height:15px;white-space:nowrap;font-size:11.5px;line-height:15px;font-weight:bold;font-style:normal;color:#444;letter-spacing:0.000px;">X</div><div class="a" style="left:0px;top:60px;width:1124px;height:1.5px;background:#cfcfcf;"></div><div class="a" style="left:586px;top:61.2px;width:21.6px;height:10.4px;background:#eef1f6;border:1px solid #dadde3;border-top:none;border-radius:0 0 4px 4px;"><svg width="21" height="10" style="position:absolute;left:0;top:0"><path d="M7.5 2.5 L10.3 5 L13.1 2.5" fill="none" stroke="#b4b6bc" stroke-width="1.8"/></svg></div><div class="a" style="left:0px;top:81px;width:280px;height:545px;background:#f5f5f4;"></div><div class="a" style="left:11.7px;top:90px;width:46.3px;height:20px;background:linear-gradient(#f4f4f4,#e5e6e7);border:1px solid #d9d9d9;border-radius:3px;"></div><div class="a" style="left:19.8px;top:93.3px;height:12px;white-space:nowrap;font-size:9.6px;line-height:12px;font-weight:bold;font-style:normal;color:#333;letter-spacing:0.889px;">Close</div><div class="a" style="left:210px;top:90px;width:57.4px;height:20px;background:linear-gradient(#f4f4f4,#e5e6e7);border:1px solid #d9d9d9;border-radius:3px;"></div><div class="a" style="left:219.2px;top:93.3px;height:12px;white-space:nowrap;font-size:9.6px;line-height:12px;font-weight:bold;font-style:normal;color:#333;letter-spacing:0.709px;">Refresh</div><div class="a" style="left:14.7px;top:112.5px;height:12px;white-space:nowrap;font-size:9px;line-height:12px;font-weight:bold;font-style:normal;color:#2a6bb0;letter-spacing:0.000px;">*</div><div class="a" style="left:22px;top:115.5px;height:12px;white-space:nowrap;font-size:9.4px;line-height:12px;font-weight:bold;font-style:normal;color:#555;letter-spacing:0.778px;">Work Center</div><div class="a" style="left:127px;top:118px;width:114px;height:18px;background:#fff;border:1px solid #f0f0f0;"></div><div class="a" style="left:207.6px;top:121.8px;height:12px;white-space:nowrap;font-size:9.6px;line-height:12px;font-weight:normal;font-style:normal;color:#777;letter-spacing:0.776px;">WC01</div><div class="a" style="left:125.3px;top:136.0px;height:12px;white-space:nowrap;font-size:9.6px;line-height:12px;font-weight:normal;font-style:italic;color:#666;letter-spacing:0.627px;">Assembly</div><div class="a" style="left:14.7px;top:146.5px;height:12px;white-space:nowrap;font-size:9px;line-height:12px;font-weight:bold;font-style:normal;color:#2a6bb0;letter-spacing:0.000px;">*</div><div class="a" style="left:22px;top:149.4px;height:12px;white-space:nowrap;font-size:9.4px;line-height:12px;font-weight:bold;font-style:normal;color:#555;letter-spacing:0.778px;">Branch/Plant</div><div class="a" style="left:127px;top:152px;width:114px;height:18px;background:#fff;border:1px solid #f0f0f0;"></div><div class="a" style="left:217.92px;top:154.7px;height:12px;white-space:nowrap;font-size:9.6px;line-height:12px;font-weight:normal;font-style:normal;color:#777;letter-spacing:0.000px;">M30</div><div class="a" style="left:125.3px;top:169.0px;height:12px;white-space:nowrap;font-size:9.6px;line-height:12px;font-weight:normal;font-style:italic;color:#666;letter-spacing:0.518px;">Eastern Manufacturing Ce...</div><svg class="a" style="left:246px;top:121px" width="12" height="12" viewBox="0 0 12 12"><circle cx="4.6" cy="4.6" r="3.3" fill="none" stroke="#8f8f8f" stroke-width="1.3"/><path d="M7 7 L10.8 10.8" stroke="#8f8f8f" stroke-width="1.9" stroke-linecap="round"/></svg><svg class="a" style="left:246px;top:155px" width="12" height="12" viewBox="0 0 12 12"><circle cx="4.6" cy="4.6" r="3.3" fill="none" stroke="#8f8f8f" stroke-width="1.3"/><path d="M7 7 L10.8 10.8" stroke="#8f8f8f" stroke-width="1.9" stroke-linecap="round"/></svg><div class="a" style="left:8.6px;top:185.9px;height:16px;white-space:nowrap;font-size:12.6px;line-height:16px;font-weight:bold;font-style:normal;color:#333;letter-spacing:0.771px;">10/06/2017</div><div class="a" style="left:9px;top:203px;width:264px;height:1px;background:#e3e3e3;"></div><div class="a" style="left:12.8px;top:208.0px;height:12px;white-space:nowrap;font-size:9.4px;line-height:12px;font-weight:bold;font-style:normal;color:#606060;letter-spacing:0.738px;">Gross Capacity</div><div class="a" style="left:240.7px;top:208.0px;height:12px;white-space:nowrap;font-size:9.6px;line-height:12px;font-weight:normal;font-style:normal;color:#666;letter-spacing:0.494px;">160.0</div><div class="a" style="left:12.8px;top:221.6px;height:12px;white-space:nowrap;font-size:9.4px;line-height:12px;font-weight:bold;font-style:normal;color:#606060;letter-spacing:0.738px;">Rated Capacity</div><div class="a" style="left:240.7px;top:221.6px;height:12px;white-space:nowrap;font-size:9.6px;line-height:12px;font-weight:normal;font-style:normal;color:#666;letter-spacing:0.494px;">139.2</div><div class="a" style="left:12.8px;top:235.0px;height:12px;white-space:nowrap;font-size:9.4px;line-height:12px;font-weight:bold;font-style:normal;color:#606060;letter-spacing:0.738px;">Scheduled Load</div><div class="a" style="left:240.7px;top:235.0px;height:12px;white-space:nowrap;font-size:9.6px;line-height:12px;font-weight:normal;font-style:normal;color:#666;letter-spacing:0.494px;">100.0</div><div class="a" style="left:12.8px;top:248.4px;height:12px;white-space:nowrap;font-size:9.4px;line-height:12px;font-weight:bold;font-style:normal;color:#606060;letter-spacing:0.738px;">Remaining Capacity</div><div class="a" style="left:246.53px;top:248.4px;height:12px;white-space:nowrap;font-size:9.6px;line-height:12px;font-weight:normal;font-style:normal;color:#666;letter-spacing:0.494px;">39.2</div><div class="a" style="left:8px;top:270.5px;width:264.5px;height:27.3px;background:#fff;border-bottom:1px solid #ececec;"></div><div class="a" style="left:17.7px;top:271.5px;height:13px;white-space:nowrap;font-size:10px;line-height:13px;font-weight:bold;font-style:normal;color:#f06a20;letter-spacing:0.000px;">*</div><div class="a" style="left:21.5px;top:276.0px;height:12px;white-space:nowrap;font-size:9.6px;line-height:12px;font-weight:bold;font-style:normal;color:#444;letter-spacing:0.581px;">Contraption, T1, Ersatz 98700</div><svg class="a" style="left:243.5px;top:279px" width="11" height="6"><path d="M0 0 H11 L5.5 5.5 Z" fill="#2d7fc1"/></svg><div class="a" style="left:7.6px;top:595.7px;height:12px;white-space:nowrap;font-size:9.4px;line-height:12px;font-weight:bold;font-style:normal;color:#22609b;letter-spacing:0.714px;">Work Center Details</div><div class="a" style="left:7.6px;top:609.8px;height:12px;white-space:nowrap;font-size:9.4px;line-height:12px;font-weight:bold;font-style:normal;color:#22609b;letter-spacing:0.714px;">Resource Units</div><div class="a" style="left:278.5px;top:86px;width:2px;height:540px;background:#c7c7c7;"></div><div class="a" style="left:273.5px;top:350px;width:6px;height:20px;background:#fafafa;border:1px solid #d0d0d0;border-right:none;border-radius:2px 0 0 2px;"></div><svg class="a" style="left:274.5px;top:357px" width="4" height="6"><path d="M3.5 0 V6 L0 3 Z" fill="#222"/></svg><div class="a" style="left:280.5px;top:86px;width:844px;height:540px;background:#fff;border-top:2px solid #d0d0d0;"></div><svg class="a" style="left:287px;top:93px" width="15" height="13" viewBox="0 0 15 13"><rect x="0.5" y="2" width="14" height="10.5" rx="1" fill="#8a8a8a"/><rect x="3" y="0" width="2" height="3" fill="#8a8a8a"/><rect x="10" y="0" width="2" height="3" fill="#8a8a8a"/><rect x="6" y="6" width="3" height="3" fill="#eee"/></svg><svg class="a" style="left:316px;top:93px" width="15" height="13" viewBox="0 0 15 13"><rect x="0.5" y="2" width="14" height="10.5" rx="1" fill="#8a8a8a"/><rect x="3" y="0" width="2" height="3" fill="#8a8a8a"/><rect x="10" y="0" width="2" height="3" fill="#8a8a8a"/><rect x="1.5" y="6" width="12" height="1.5" fill="#eee"/></svg><div class="a" style="left:339.7px;top:91px;width:25.3px;height:20px;background:#1f6fc5;border-radius:2px;"></div><svg class="a" style="left:344.5px;top:94px" width="16" height="14" viewBox="0 0 16 14"><rect x="0.5" y="2" width="15" height="11.5" rx="1" fill="#9ec3ea"/><rect x="0.5" y="2" width="15" height="3" fill="#d8e8f8"/><g fill="#1f6fc5"><rect x="2" y="6.5" width="2" height="1.6"/><rect x="5.3" y="6.5" width="2" height="1.6"/><rect x="8.6" y="6.5" width="2" height="1.6"/><rect x="11.9" y="6.5" width="2" height="1.6"/><rect x="2" y="9.8" width="2" height="1.6"/><rect x="5.3" y="9.8" width="2" height="1.6"/><rect x="8.6" y="9.8" width="2" height="1.6"/><rect x="11.9" y="9.8" width="2" height="1.6"/></g></svg><div class="a" style="left:371px;top:93px;width:1px;height:16px;background:#e2e2e2;"></div><svg class="a" style="left:382px;top:95px" width="28" height="12" viewBox="0 0 28 12"><path d="M7 1.5 L2.5 6 L7 10.5" fill="none" stroke="#111" stroke-width="2"/><path d="M18 1.5 L22.5 6 L18 10.5" fill="none" stroke="#111" stroke-width="2"/></svg><div class="a" style="left:420px;top:91px;width:45px;height:19px;background:linear-gradient(#f4f4f4,#e5e6e7);border:1px solid #d9d9d9;border-radius:3px;"></div><div class="a" style="left:428.8px;top:94.4px;height:12px;white-space:nowrap;font-size:9.4px;line-height:12px;font-weight:bold;font-style:normal;color:#333;letter-spacing:0.504px;">Today</div><div class="a" style="left:474.5px;top:93.4px;height:14px;white-space:nowrap;font-size:10.6px;line-height:14px;font-weight:bold;font-style:normal;color:#333;letter-spacing:0.576px;">October 2017</div><div class="a" style="left:280.5px;top:113.5px;width:843px;height:13px;background:#fff;border-top:1px solid #eceef0;"></div><div class="a" style="left:413.5px;top:114px;width:1px;height:12px;background:#e6e8ea;"></div><div class="a" style="left:548.5px;top:114px;width:1px;height:12px;background:#e6e8ea;"></div><div class="a" style="left:695.5px;top:114px;width:1px;height:12px;background:#e6e8ea;"></div><div class="a" style="left:856.5px;top:114px;width:1px;height:12px;background:#e6e8ea;"></div><div class="a" style="left:923.5px;top:114px;width:1px;height:12px;background:#e6e8ea;"></div><div class="a" style="left:353.33px;top:113.1px;height:13px;white-space:nowrap;font-size:10.2px;line-height:13px;font-weight:normal;font-style:normal;color:#555;letter-spacing:0.000px;">Sun</div><div class="a" style="left:481.78px;top:113.1px;height:13px;white-space:nowrap;font-size:10.2px;line-height:13px;font-weight:normal;font-style:normal;color:#555;letter-spacing:0.000px;">Mon</div><div class="a" style="left:605.4px;top:113.1px;height:13px;white-space:nowrap;font-size:10.2px;line-height:13px;font-weight:normal;font-style:normal;color:#555;letter-spacing:0.000px;">Tue</div><div class="a" style="left:764.21px;top:113.1px;height:13px;white-space:nowrap;font-size:10.2px;line-height:13px;font-weight:normal;font-style:normal;color:#555;letter-spacing:0.000px;">Wed</div><div class="a" style="left:874.81px;top:113.1px;height:13px;white-space:nowrap;font-size:10.2px;line-height:13px;font-weight:normal;font-style:normal;color:#555;letter-spacing:0.000px;">Thu</div><div class="a" style="left:999.35px;top:113.1px;height:13px;white-space:nowrap;font-size:10.2px;line-height:13px;font-weight:normal;font-style:normal;color:#555;letter-spacing:0.000px;">Fri</div><div class="a" style="left:1086.94px;top:113.1px;height:13px;white-space:nowrap;font-size:10.2px;line-height:13px;font-weight:normal;font-style:normal;color:#555;letter-spacing:0.000px;">Sat</div><div class="a" style="left:280.5px;top:126.6px;width:843px;height:10.5px;background:#f3f6f9;border-top:1px solid #e8ecf0;"></div><div class="a" style="left:404.55px;top:125.3px;height:13px;white-space:nowrap;font-size:9.8px;line-height:13px;font-weight:normal;font-style:normal;color:#4f7ea8;letter-spacing:0.000px;">1</div><div class="a" style="left:539.55px;top:125.3px;height:13px;white-space:nowrap;font-size:9.8px;line-height:13px;font-weight:normal;font-style:normal;color:#4f7ea8;letter-spacing:0.000px;">2</div><div class="a" style="left:686.55px;top:125.3px;height:13px;white-space:nowrap;font-size:9.8px;line-height:13px;font-weight:normal;font-style:normal;color:#4f7ea8;letter-spacing:0.000px;">3</div><div class="a" style="left:847.55px;top:125.3px;height:13px;white-space:nowrap;font-size:9.8px;line-height:13px;font-weight:normal;font-style:normal;color:#4f7ea8;letter-spacing:0.000px;">4</div><div class="a" style="left:914.55px;top:125.3px;height:13px;white-space:nowrap;font-size:9.8px;line-height:13px;font-weight:normal;font-style:normal;color:#4f7ea8;letter-spacing:0.000px;">5</div><div class="a" style="left:1073.05px;top:125.3px;height:13px;white-space:nowrap;font-size:9.8px;line-height:13px;font-weight:normal;font-style:normal;color:#4f7ea8;letter-spacing:0.000px;">6</div><div class="a" style="left:1114.55px;top:125.3px;height:13px;white-space:nowrap;font-size:9.8px;line-height:13px;font-weight:normal;font-style:normal;color:#4f7ea8;letter-spacing:0.000px;">7</div><div class="a" style="left:280.5px;top:228.45px;width:843px;height:10.5px;background:#f3f6f9;border-top:1px solid #e8ecf0;"></div><div class="a" style="left:404.55px;top:227.15px;height:13px;white-space:nowrap;font-size:9.8px;line-height:13px;font-weight:normal;font-style:normal;color:#4f7ea8;letter-spacing:0.000px;">8</div><div class="a" style="left:539.55px;top:227.15px;height:13px;white-space:nowrap;font-size:9.8px;line-height:13px;font-weight:normal;font-style:normal;color:#4f7ea8;letter-spacing:0.000px;">9</div><div class="a" style="left:681.1px;top:227.15px;height:13px;white-space:nowrap;font-size:9.8px;line-height:13px;font-weight:normal;font-style:normal;color:#4f7ea8;letter-spacing:0.000px;">10</div><div class="a" style="left:842.83px;top:227.15px;height:13px;white-space:nowrap;font-size:9.8px;line-height:13px;font-weight:normal;font-style:normal;color:#4f7ea8;letter-spacing:0.000px;">11</div><div class="a" style="left:909.1px;top:227.15px;height:13px;white-space:nowrap;font-size:9.8px;line-height:13px;font-weight:normal;font-style:normal;color:#4f7ea8;letter-spacing:0.000px;">12</div><div class="a" style="left:1072.1px;top:227.15px;height:13px;white-space:nowrap;font-size:9.8px;line-height:13px;font-weight:normal;font-style:normal;color:#4f7ea8;letter-spacing:0.000px;">13</div><div class="a" style="left:1109.1px;top:227.15px;height:13px;white-space:nowrap;font-size:9.8px;line-height:13px;font-weight:normal;font-style:normal;color:#4f7ea8;letter-spacing:0.000px;">14</div><div class="a" style="left:280.5px;top:330.3px;width:843px;height:10.5px;background:#f3f6f9;border-top:1px solid #e8ecf0;"></div><div class="a" style="left:399.1px;top:329.0px;height:13px;white-space:nowrap;font-size:9.8px;line-height:13px;font-weight:normal;font-style:normal;color:#4f7ea8;letter-spacing:0.000px;">15</div><div class="a" style="left:534.1px;top:329.0px;height:13px;white-space:nowrap;font-size:9.8px;line-height:13px;font-weight:normal;font-style:normal;color:#4f7ea8;letter-spacing:0.000px;">16</div><div class="a" style="left:681.1px;top:329.0px;height:13px;white-space:nowrap;font-size:9.8px;line-height:13px;font-weight:normal;font-style:normal;color:#4f7ea8;letter-spacing:0.000px;">17</div><div class="a" style="left:842.1px;top:329.0px;height:13px;white-space:nowrap;font-size:9.8px;line-height:13px;font-weight:normal;font-style:normal;color:#4f7ea8;letter-spacing:0.000px;">18</div><div class="a" style="left:909.1px;top:329.0px;height:13px;white-space:nowrap;font-size:9.8px;line-height:13px;font-weight:normal;font-style:normal;color:#4f7ea8;letter-spacing:0.000px;">19</div><div class="a" style="left:1072.1px;top:329.0px;height:13px;white-space:nowrap;font-size:9.8px;line-height:13px;font-weight:normal;font-style:normal;color:#4f7ea8;letter-spacing:0.000px;">20</div><div class="a" style="left:1109.1px;top:329.0px;height:13px;white-space:nowrap;font-size:9.8px;line-height:13px;font-weight:normal;font-style:normal;color:#4f7ea8;letter-spacing:0.000px;">21</div><div class="a" style="left:280.5px;top:432.15px;width:843px;height:10.5px;background:#f3f6f9;border-top:1px solid #e8ecf0;"></div><div class="a" style="left:391.6px;top:430.85px;height:13px;white-space:nowrap;font-size:9.8px;line-height:13px;font-weight:normal;font-style:normal;color:#4f7ea8;letter-spacing:0.000px;">22</div><div class="a" style="left:534.1px;top:430.85px;height:13px;white-space:nowrap;font-size:9.8px;line-height:13px;font-weight:normal;font-style:normal;color:#4f7ea8;letter-spacing:0.000px;">23</div><div class="a" style="left:681.1px;top:430.85px;height:13px;white-space:nowrap;font-size:9.8px;line-height:13px;font-weight:normal;font-style:normal;color:#4f7ea8;letter-spacing:0.000px;">24</div><div class="a" style="left:842.1px;top:430.85px;height:13px;white-space:nowrap;font-size:9.8px;line-height:13px;font-weight:normal;font-style:normal;color:#4f7ea8;letter-spacing:0.000px;">25</div><div class="a" style="left:909.1px;top:430.85px;height:13px;white-space:nowrap;font-size:9.8px;line-height:13px;font-weight:normal;font-style:normal;color:#4f7ea8;letter-spacing:0.000px;">26</div><div class="a" style="left:1072.1px;top:430.85px;height:13px;white-space:nowrap;font-size:9.8px;line-height:13px;font-weight:normal;font-style:normal;color:#4f7ea8;letter-spacing:0.000px;">27</div><div class="a" style="left:1109.1px;top:430.85px;height:13px;white-space:nowrap;font-size:9.8px;line-height:13px;font-weight:normal;font-style:normal;color:#4f7ea8;letter-spacing:0.000px;">28</div><div class="a" style="left:280.5px;top:534.0px;width:843px;height:10.5px;background:#f3f6f9;border-top:1px solid #e8ecf0;"></div><div class="a" style="left:391.6px;top:532.7px;height:13px;white-space:nowrap;font-size:9.8px;line-height:13px;font-weight:normal;font-style:normal;color:#4f7ea8;letter-spacing:0.000px;">29</div><div class="a" style="left:534.1px;top:532.7px;height:13px;white-space:nowrap;font-size:9.8px;line-height:13px;font-weight:normal;font-style:normal;color:#4f7ea8;letter-spacing:0.000px;">30</div><div class="a" style="left:681.1px;top:532.7px;height:13px;white-space:nowrap;font-size:9.8px;line-height:13px;font-weight:normal;font-style:normal;color:#4f7ea8;letter-spacing:0.000px;">31</div><div class="a" style="left:847.55px;top:532.7px;height:13px;white-space:nowrap;font-size:9.8px;line-height:13px;font-weight:normal;font-style:normal;color:#4f7ea8;letter-spacing:0.000px;">1</div><div class="a" style="left:914.55px;top:532.7px;height:13px;white-space:nowrap;font-size:9.8px;line-height:13px;font-weight:normal;font-style:normal;color:#4f7ea8;letter-spacing:0.000px;">2</div><div class="a" style="left:1077.55px;top:532.7px;height:13px;white-space:nowrap;font-size:9.8px;line-height:13px;font-weight:normal;font-style:normal;color:#4f7ea8;letter-spacing:0.000px;">3</div><div class="a" style="left:1114.55px;top:532.7px;height:13px;white-space:nowrap;font-size:9.8px;line-height:13px;font-weight:normal;font-style:normal;color:#4f7ea8;letter-spacing:0.000px;">4</div><div class="a" style="left:696px;top:545.5px;width:427px;height:80.5px;background:#f3f4f6;"></div><div class="a" style="left:548.5px;top:126.6px;width:1px;height:500px;background:#e6e8ea;"></div><div class="a" style="left:695.5px;top:126.6px;width:1px;height:500px;background:#e6e8ea;"></div><div class="a" style="left:856.5px;top:126.6px;width:1px;height:500px;background:#e6e8ea;"></div><div class="a" style="left:923.5px;top:126.6px;width:1px;height:500px;background:#e6e8ea;"></div><div class="a" style="left:1081px;top:126.6px;width:1px;height:88px;background:#e6e8ea;"></div><div class="a" style="left:1087px;top:216px;width:1px;height:410px;background:#e6e8ea;"></div><div class="a" style="left:413.5px;top:126.6px;width:1px;height:270px;background:#e6e8ea;"></div><div class="a" style="left:406px;top:396px;width:1px;height:230px;background:#e6e8ea;"></div><div class="a" style="left:926.5px;top:137.8px;width:151.5px;height:11.5px;background:#2e9656;box-shadow:0 1px 0 #c4eef8;"></div><div class="a" style="left:930.5px;top:137.55px;height:12px;white-space:nowrap;font-size:9.5px;line-height:12px;font-weight:bold;font-style:normal;color:#fff;letter-spacing:0.000px;">39.2</div><div class="a" style="left:926.5px;top:151.4px;width:193.8px;height:11.5px;background:#1796cc;box-shadow:0 0 0 1px #b4e8f7;"></div><div class="a" style="left:930.5px;top:151.15px;height:12px;white-space:nowrap;font-size:9.5px;line-height:12px;font-weight:bold;font-style:normal;color:#fff;letter-spacing:-0.216px;">Contraption, T1, Ersatz - 98700 - 45895</div><svg class="a" style="left:1105px;top:153.6px" width="11" height="8"><path d="M0 3 H6 V0 L10.5 4 L6 8 V5 H0 Z" fill="#111"/></svg><div class="a" style="left:417px;top:239.85px;width:128.5px;height:11.2px;background:#2e9656;box-shadow:0 1px 0 #c4eef8;"></div><div class="a" style="left:421px;top:239.45px;height:12px;white-space:nowrap;font-size:9.5px;line-height:12px;font-weight:bold;font-style:normal;color:#fff;letter-spacing:0.000px;">39.2</div><div class="a" style="left:552px;top:239.85px;width:140px;height:11.2px;background:#2e9656;box-shadow:0 1px 0 #c4eef8;"></div><div class="a" style="left:556px;top:239.45px;height:12px;white-space:nowrap;font-size:9.5px;line-height:12px;font-weight:bold;font-style:normal;color:#fff;letter-spacing:0.000px;">89.2</div><div class="a" style="left:699px;top:239.85px;width:154px;height:11.2px;background:#2e9656;box-shadow:0 1px 0 #c4eef8;"></div><div class="a" style="left:703px;top:239.45px;height:12px;white-space:nowrap;font-size:9.5px;line-height:12px;font-weight:bold;font-style:normal;color:#fff;letter-spacing:0.000px;">39.2</div><div class="a" style="left:859.6px;top:239.85px;width:60.4px;height:11.2px;background:#2e9656;box-shadow:0 1px 0 #c4eef8;"></div><div class="a" style="left:863.6px;top:239.45px;height:12px;white-space:nowrap;font-size:9.5px;line-height:12px;font-weight:bold;font-style:normal;color:#fff;letter-spacing:0.000px;">39.2</div><div class="a" style="left:926.5px;top:239.85px;width:157.5px;height:11.2px;background:#2e9656;box-shadow:0 1px 0 #c4eef8;"></div><div class="a" style="left:930.5px;top:239.45px;height:12px;white-space:nowrap;font-size:9.5px;line-height:12px;font-weight:bold;font-style:normal;color:#fff;letter-spacing:0.000px;">104.2</div><div class="a" style="left:283.7px;top:253.65px;width:261.8px;height:11.3px;background:#1796cc;box-shadow:0 0 0 1px #b4e8f7;"></div><div class="a" style="left:304.0px;top:253.3px;height:12px;white-space:nowrap;font-size:9.5px;line-height:12px;font-weight:bold;font-style:normal;color:#fff;letter-spacing:-0.424px;">Contraption,, Ersatz - 98700 - 458505</div><svg class="a" style="left:289px;top:255.35px" width="11" height="8"><path d="M10.5 3 H4.5 V0 L0 4 L4.5 8 V5 H10.5 Z" fill="#111"/></svg><div class="a" style="left:552px;top:253.65px;width:140px;height:11.3px;background:#1796cc;box-shadow:0 0 0 1px #b4e8f7;"></div><div class="a" style="left:556px;top:253.3px;height:12px;white-space:nowrap;font-size:9.5px;line-height:12px;font-weight:bold;font-style:normal;color:#fff;letter-spacing:0.000px;">Widget, Full - 3218 - 45628</div><div class="a" style="left:699px;top:253.65px;width:221px;height:11.3px;background:#1796cc;box-shadow:0 0 0 1px #b4e8f7;"></div><div class="a" style="left:703px;top:253.3px;height:12px;white-space:nowrap;font-size:9.5px;line-height:12px;font-weight:bold;font-style:normal;color:#fff;letter-spacing:0.000px;">Contraption, T2, Ersatz - 65400 - 458548</div><div class="a" style="left:926.5px;top:253.65px;width:157.5px;height:11.3px;background:#1796cc;box-shadow:0 0 0 1px #b4e8f7;"></div><div class="a" style="left:930.5px;top:253.3px;height:12px;white-space:nowrap;font-size:9.5px;line-height:12px;font-weight:bold;font-style:normal;color:#fff;letter-spacing:0.000px;">Widget, Compact - 32100 - 458581</div><div class="a" style="left:417px;top:341.6px;width:128.5px;height:11.6px;background:#2e9656;box-shadow:0 1px 0 #c4eef8;"></div><div class="a" style="left:421px;top:341.4px;height:12px;white-space:nowrap;font-size:9.5px;line-height:12px;font-weight:bold;font-style:normal;color:#fff;letter-spacing:0.000px;">139.2</div><div class="a" style="left:552px;top:341.6px;width:140px;height:11.6px;background:#2e9656;box-shadow:0 1px 0 #c4eef8;"></div><div class="a" style="left:556px;top:341.4px;height:12px;white-space:nowrap;font-size:9.5px;line-height:12px;font-weight:bold;font-style:normal;color:#fff;letter-spacing:0.000px;">89.2</div><div class="a" style="left:699px;top:341.6px;width:154px;height:11.6px;background:#2e9656;box-shadow:0 1px 0 #c4eef8;"></div><div class="a" style="left:703px;top:341.4px;height:12px;white-space:nowrap;font-size:9.5px;line-height:12px;font-weight:bold;font-style:normal;color:#fff;letter-spacing:0.000px;">76.7</div><div class="a" style="left:859.6px;top:341.6px;width:60.4px;height:11.6px;background:#ee4b35;box-shadow:0 1px 0 #c4eef8;"></div><div class="a" style="left:863.6px;top:341.4px;height:12px;white-space:nowrap;font-size:9.5px;line-height:12px;font-weight:bold;font-style:normal;color:#fff;letter-spacing:0.000px;">-23.3</div><div class="a" style="left:926.5px;top:341.6px;width:157.5px;height:11.6px;background:#2e9656;box-shadow:0 1px 0 #c4eef8;"></div><div class="a" style="left:930.5px;top:341.4px;height:12px;white-space:nowrap;font-size:9.5px;line-height:12px;font-weight:bold;font-style:normal;color:#fff;letter-spacing:0.000px;">4.2</div><div class="a" style="left:552px;top:355.9px;width:140px;height:11px;background:#1796cc;box-shadow:0 0 0 1px #b4e8f7;"></div><div class="a" style="left:556px;top:355.4px;height:12px;white-space:nowrap;font-size:9.5px;line-height:12px;font-weight:bold;font-style:normal;color:#fff;letter-spacing:0.000px;">Widget, Full - 3201 - 458636</div><div class="a" style="left:699px;top:355.9px;width:221px;height:11px;background:#1796cc;box-shadow:0 0 0 1px #b4e8f7;"></div><div class="a" style="left:703px;top:355.4px;height:12px;white-space:nowrap;font-size:9.5px;line-height:12px;font-weight:bold;font-style:normal;color:#fff;letter-spacing:0.000px;">Contraption, T2, Ersatz -65400 - 458556</div><div class="a" style="left:926.5px;top:355.9px;width:157.5px;height:11px;background:#1796cc;box-shadow:0 0 0 1px #b4e8f7;"></div><div class="a" style="left:930.5px;top:355.4px;height:12px;white-space:nowrap;font-size:9.5px;line-height:12px;font-weight:bold;font-style:normal;color:#fff;letter-spacing:0.000px;">Widget, Compact - 32100 - 458599</div><div class="a" style="left:859.6px;top:369.7px;width:224.4px;height:11px;background:#1796cc;box-shadow:0 0 0 1px #b4e8f7;"></div><div class="a" style="left:863.6px;top:369.2px;height:12px;white-space:nowrap;font-size:9.5px;line-height:12px;font-weight:bold;font-style:normal;color:#fff;letter-spacing:0.000px;">Cntn, T46 - 458513</div><div class="a" style="left:409.4px;top:444.15px;width:136.1px;height:11.2px;background:#2e9656;box-shadow:0 1px 0 #c4eef8;"></div><div class="a" style="left:413.4px;top:443.75px;height:12px;white-space:nowrap;font-size:9.5px;line-height:12px;font-weight:bold;font-style:normal;color:#fff;letter-spacing:0.000px;">39.2</div><div class="a" style="left:552px;top:444.15px;width:140px;height:11.2px;background:#ee4b35;box-shadow:0 1px 0 #c4eef8;"></div><div class="a" style="left:556px;top:443.75px;height:12px;white-space:nowrap;font-size:9.5px;line-height:12px;font-weight:bold;font-style:normal;color:#fff;letter-spacing:0.000px;">-10.8</div><div class="a" style="left:699px;top:444.15px;width:154px;height:11.2px;background:#2e9656;box-shadow:0 1px 0 #c4eef8;"></div><div class="a" style="left:703px;top:443.75px;height:12px;white-space:nowrap;font-size:9.5px;line-height:12px;font-weight:bold;font-style:normal;color:#fff;letter-spacing:0.000px;">76.7</div><div class="a" style="left:859.6px;top:444.15px;width:60.4px;height:11.2px;background:#2e9656;box-shadow:0 1px 0 #c4eef8;"></div><div class="a" style="left:863.6px;top:443.75px;height:12px;white-space:nowrap;font-size:9.5px;line-height:12px;font-weight:bold;font-style:normal;color:#fff;letter-spacing:0.000px;">76.7</div><div class="a" style="left:926.5px;top:444.15px;width:157.5px;height:11.2px;background:#2e9656;box-shadow:0 1px 0 #c4eef8;"></div><div class="a" style="left:930.5px;top:443.75px;height:12px;white-space:nowrap;font-size:9.5px;line-height:12px;font-weight:bold;font-style:normal;color:#fff;letter-spacing:0.000px;">99.2</div><div class="a" style="left:409.4px;top:458.65px;width:282.6px;height:11px;background:#1796cc;box-shadow:0 0 0 1px #b4e8f7;"></div><div class="a" style="left:413.4px;top:458.15px;height:12px;white-space:nowrap;font-size:9.5px;line-height:12px;font-weight:bold;font-style:normal;color:#fff;letter-spacing:-0.288px;">Contrapn, T1, Ersatz - 98700 - 458521</div><div class="a" style="left:552px;top:472.15px;width:140px;height:10.6px;background:#1796cc;box-shadow:0 0 0 1px #b4e8f7;"></div><div class="a" style="left:556px;top:471.45px;height:12px;white-space:nowrap;font-size:9.5px;line-height:12px;font-weight:bold;font-style:normal;color:#fff;letter-spacing:0.000px;">Widget, Full - 3218 - 458644</div><div class="a" style="left:699px;top:458.65px;width:221px;height:11px;background:#1796cc;box-shadow:0 0 0 1px #b4e8f7;"></div><div class="a" style="left:703px;top:458.15px;height:12px;white-space:nowrap;font-size:9.5px;line-height:12px;font-weight:bold;font-style:normal;color:#fff;letter-spacing:0.000px;">Contraption, T2, Ersatz - 6400 - 458564</div><div class="a" style="left:926.5px;top:458.65px;width:157.5px;height:11px;background:#1796cc;box-shadow:0 0 0 1px #b4e8f7;"></div><div class="a" style="left:930.5px;top:458.15px;height:12px;white-space:nowrap;font-size:9.5px;line-height:12px;font-weight:bold;font-style:normal;color:#fff;letter-spacing:0.000px;">Widget, Compact - 32100 - 458601</div><div class="a" style="left:409.4px;top:545.6px;width:136.1px;height:11.8px;background:#2e9656;box-shadow:0 1px 0 #c4eef8;"></div><div class="a" style="left:413.4px;top:545.5px;height:12px;white-space:nowrap;font-size:9.5px;line-height:12px;font-weight:bold;font-style:normal;color:#fff;letter-spacing:0.000px;">139.2</div><div class="a" style="left:552px;top:545.6px;width:140px;height:11.8px;background:#2e9656;box-shadow:0 1px 0 #c4eef8;"></div><div class="a" style="left:556px;top:545.5px;height:12px;white-space:nowrap;font-size:9.5px;line-height:12px;font-weight:bold;font-style:normal;color:#fff;letter-spacing:0.000px;">139.2</div><div class="a" style="left:699px;top:545.6px;width:154px;height:11.8px;background:#2e9656;box-shadow:0 1px 0 #c4eef8;"></div><div class="a" style="left:703px;top:545.5px;height:12px;white-space:nowrap;font-size:9.5px;line-height:12px;font-weight:bold;font-style:normal;color:#fff;letter-spacing:0.000px;">139.2</div><div class="a" style="left:859.6px;top:545.6px;width:60.4px;height:11.8px;background:#2e9656;box-shadow:0 1px 0 #c4eef8;"></div><div class="a" style="left:863.6px;top:545.5px;height:12px;white-space:nowrap;font-size:9.5px;line-height:12px;font-weight:bold;font-style:normal;color:#fff;letter-spacing:0.000px;">139.2</div><div class="a" style="left:926.5px;top:545.6px;width:157.5px;height:11.8px;background:#2e9656;box-shadow:0 1px 0 #c4eef8;"></div><div class="a" style="left:930.5px;top:545.5px;height:12px;white-space:nowrap;font-size:9.5px;line-height:12px;font-weight:bold;font-style:normal;color:#fff;letter-spacing:0.000px;">139.2</div><div class="a" style="left:0px;top:625px;width:1124px;height:1px;background:#c9c9c9;"></div></div></body></html>
